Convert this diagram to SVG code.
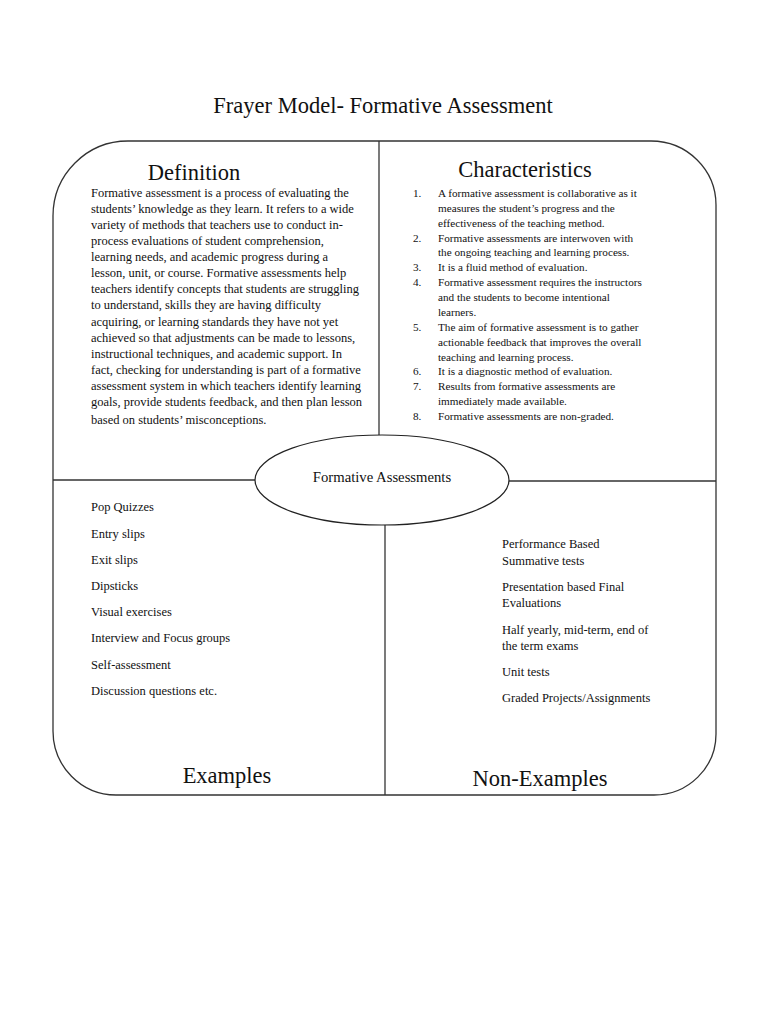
<svg xmlns="http://www.w3.org/2000/svg" width="768" height="1024" viewBox="0 0 768 1024">
<style>
text{font-family:"Liberation Serif","Times New Roman",serif;fill:#111}
.title{font-size:22.5px}
.head{font-size:22.5px}
.def{font-size:12.5px}
.chr{font-size:11.2px}
.ex{font-size:12.5px}
.ln{stroke:#333;stroke-width:1.3;fill:none}
</style>
<rect width="768" height="1024" fill="#fff"/>
<text class="title" x="383" y="113" text-anchor="middle">Frayer Model- Formative Assessment</text>
<g id="frame">
<path class="ln" stroke-width="1.6" d="M128,141 L651,141 A65,64 0 0 1 716,205 L716,734 A62,61 0 0 1 654,795 L116,795 A63,64 0 0 1 53,731 L53,216 A75,75 0 0 1 128,141 Z"/>
</g>
<g id="connectors">
<line class="ln" x1="379" y1="141" x2="379" y2="435"/>
<line class="ln" x1="53" y1="480" x2="256" y2="480"/>
<line class="ln" x1="509" y1="481" x2="716" y2="481"/>
<line class="ln" x1="385" y1="525" x2="385" y2="795"/>
</g>
<g id="center">
<ellipse cx="382" cy="480" rx="127" ry="45" fill="#fff" stroke="#222" stroke-width="1.2"/>
<text x="382" y="482" text-anchor="middle" style="font-size:14.7px">Formative Assessments</text>
</g>
<g id="definition">
<text class="head" x="194" y="180" text-anchor="middle">Definition</text>
<text class="def" x="91">
<tspan x="91" y="197">Formative assessment is a process of evaluating the</tspan>
<tspan x="91" y="213">students’ knowledge as they learn. It refers to a wide</tspan>
<tspan x="91" y="229">variety of methods that teachers use to conduct in-</tspan>
<tspan x="91" y="245">process evaluations of student comprehension,</tspan>
<tspan x="91" y="261">learning needs, and academic progress during a</tspan>
<tspan x="91" y="277">lesson, unit, or course. Formative assessments help</tspan>
<tspan x="91" y="293">teachers identify concepts that students are struggling</tspan>
<tspan x="91" y="309">to understand, skills they are having difficulty</tspan>
<tspan x="91" y="326">acquiring, or learning standards they have not yet</tspan>
<tspan x="91" y="342">achieved so that adjustments can be made to lessons,</tspan>
<tspan x="91" y="358">instructional techniques, and academic support. In</tspan>
<tspan x="91" y="374">fact, checking for understanding is part of a formative</tspan>
<tspan x="91" y="390">assessment system in which teachers identify learning</tspan>
<tspan x="91" y="406">goals, provide students feedback, and then plan lesson</tspan>
<tspan x="91" y="424">based on students’ misconceptions.</tspan>
</text>
</g>
<g id="characteristics">
<text class="head" x="525" y="177" text-anchor="middle">Characteristics</text>
<text class="chr">
<tspan x="413" y="197">1.</tspan><tspan x="438" y="197">A formative assessment is collaborative as it</tspan>
<tspan x="438" y="212">measures the student’s progress and the</tspan>
<tspan x="438" y="227">effectiveness of the teaching method.</tspan>
<tspan x="413" y="242">2.</tspan><tspan x="438" y="242">Formative assessments are interwoven with</tspan>
<tspan x="438" y="256">the ongoing teaching and learning process.</tspan>
<tspan x="413" y="271">3.</tspan><tspan x="438" y="271">It is a fluid method of evaluation.</tspan>
<tspan x="413" y="286">4.</tspan><tspan x="438" y="286">Formative assessment requires the instructors</tspan>
<tspan x="438" y="301">and the students to become intentional</tspan>
<tspan x="438" y="316">learners.</tspan>
<tspan x="413" y="331">5.</tspan><tspan x="438" y="331">The aim of formative assessment is to gather</tspan>
<tspan x="438" y="346">actionable feedback that improves the overall</tspan>
<tspan x="438" y="361">teaching and learning process.</tspan>
<tspan x="413" y="375">6.</tspan><tspan x="438" y="375">It is a diagnostic method of evaluation.</tspan>
<tspan x="413" y="390">7.</tspan><tspan x="438" y="390">Results from formative assessments are</tspan>
<tspan x="438" y="405">immediately made available.</tspan>
<tspan x="413" y="420">8.</tspan><tspan x="438" y="420">Formative assessments are non-graded.</tspan>
</text>
</g>
<g id="examples">
<text class="ex">
<tspan x="91" y="511">Pop Quizzes</tspan>
<tspan x="91" y="538">Entry slips</tspan>
<tspan x="91" y="564">Exit slips</tspan>
<tspan x="91" y="590">Dipsticks</tspan>
<tspan x="91" y="616">Visual exercises</tspan>
<tspan x="91" y="642">Interview and Focus groups</tspan>
<tspan x="91" y="669">Self-assessment</tspan>
<tspan x="91" y="695">Discussion questions etc.</tspan>
</text>
<text class="head" x="227" y="783" text-anchor="middle">Examples</text>
</g>
<g id="non-examples">
<text class="ex">
<tspan x="502" y="548">Performance Based</tspan>
<tspan x="502" y="565">Summative tests</tspan>
<tspan x="502" y="591">Presentation based Final</tspan>
<tspan x="502" y="607">Evaluations</tspan>
<tspan x="502" y="634">Half yearly, mid-term, end of</tspan>
<tspan x="502" y="650">the term exams</tspan>
<tspan x="502" y="676">Unit tests</tspan>
<tspan x="502" y="702">Graded Projects/Assignments</tspan>
</text>
<text class="head" x="540" y="786" text-anchor="middle">Non-Examples</text>
</g>
</svg>
